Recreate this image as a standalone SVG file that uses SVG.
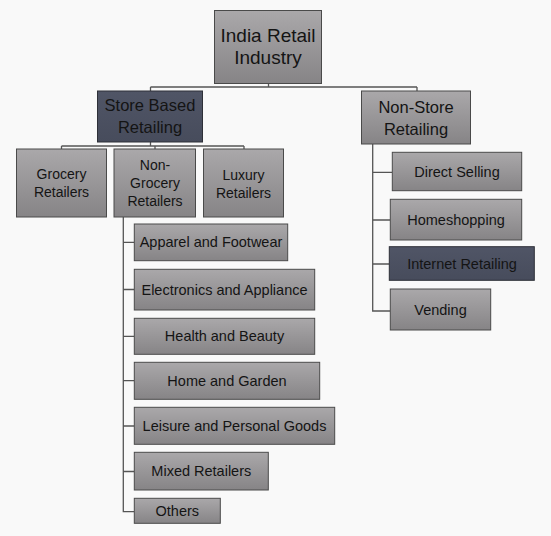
<svg xmlns="http://www.w3.org/2000/svg" width="551" height="536" viewBox="0 0 551 536">
<defs>
<linearGradient id="g" x1="0" y1="0" x2="0" y2="1">
<stop offset="0" stop-color="#aaa8aa"/>
<stop offset="1" stop-color="#868486"/>
</linearGradient>
<linearGradient id="d" x1="0" y1="0" x2="0" y2="1">
<stop offset="0" stop-color="#505566"/>
<stop offset="1" stop-color="#474c5c"/>
</linearGradient>
</defs>
<style>
.b{fill:url(#g);stroke:#4a4a4a;stroke-width:1}
.k{fill:url(#d);stroke:#2e3038;stroke-width:1}
text{font-family:"Liberation Sans",Arial,sans-serif;fill:#141414;text-anchor:middle;dominant-baseline:central}
.t1{font-size:19px}
.t2{font-size:16.5px}
.t3{font-size:14px}
.t4{font-size:14.5px}
#conn path{fill:none;stroke:#555;stroke-width:1.3}
</style>
<rect width="551" height="536" fill="#f9f9f9"/>
<g id="conn">
<path d="M268.5,83V87M150.5,87H417M150.5,87V91M417,87V91"/>
<path d="M150.5,142V146M61.5,146H244M61.5,146V149M155,146V149M244,146V149"/>
<path d="M123.3,217V511.7H134M123.3,242.3H134M123.3,289.5H134M123.3,336.3H134M123.3,380.7H134M123.3,426H134M123.3,471.5H134"/>
<path d="M372.7,144V311H390M372.7,172.3H392M372.7,220H390M372.7,264H389"/>
</g>
<g id="root"><rect class="b" x="214.5" y="10.5" width="107" height="73"/><text class="t1" x="268" y="35">India Retail</text><text class="t1" x="268" y="57.5">Industry</text></g>
<g id="store"><rect class="k" x="97.5" y="91" width="105" height="51"/><text class="t2" x="150" y="105">Store Based</text><text class="t2" x="150" y="126.5">Retailing</text></g>
<g id="nonstore"><rect class="b" x="361.5" y="91" width="109" height="53"/><text class="t2" x="416" y="107">Non-Store</text><text class="t2" x="416" y="128.5">Retailing</text></g>
<g id="grocery"><rect class="b" x="16.5" y="149" width="90" height="68"/><text class="t3" x="61.5" y="174">Grocery</text><text class="t3" x="61.5" y="192">Retailers</text></g>
<g id="nongrocery"><rect class="b" x="114" y="149" width="81.5" height="68"/><text class="t3" x="155" y="164.5">Non-</text><text class="t3" x="155" y="183">Grocery</text><text class="t3" x="155" y="200.5">Retailers</text></g>
<g id="luxury"><rect class="b" x="203.5" y="149" width="80" height="68"/><text class="t3" x="243.5" y="174.5">Luxury</text><text class="t3" x="243.5" y="192.5">Retailers</text></g>
<g id="apparel"><rect class="b" x="134.3" y="224" width="153.4" height="36.7"/><text class="t4" x="211" y="242.3">Apparel and Footwear</text></g>
<g id="electronics"><rect class="b" x="134.3" y="269.3" width="180.4" height="40.7"/><text class="t4" x="224.5" y="289.5">Electronics and Appliance</text></g>
<g id="health"><rect class="b" x="134.3" y="318.3" width="180.4" height="36"/><text class="t4" x="224.5" y="336.3">Health and Beauty</text></g>
<g id="home"><rect class="b" x="134.3" y="362.3" width="185.4" height="37"/><text class="t4" x="227" y="380.5">Home and Garden</text></g>
<g id="leisure"><rect class="b" x="134.3" y="407.3" width="200.4" height="37"/><text class="t4" x="234.5" y="425.5">Leisure and Personal Goods</text></g>
<g id="mixed"><rect class="b" x="134.3" y="452.3" width="134" height="37.7"/><text class="t4" x="201.3" y="471.3">Mixed Retailers</text></g>
<g id="others"><rect class="b" x="134.3" y="498.3" width="86" height="25"/><text class="t4" x="177.3" y="510.8">Others</text></g>
<g id="direct"><rect class="b" x="392.3" y="152.3" width="129.4" height="38.4"/><text class="t4" x="457" y="171.5">Direct Selling</text></g>
<g id="homeshopping"><rect class="b" x="390.3" y="199.3" width="131.4" height="40.7"/><text class="t4" x="456" y="219.6">Homeshopping</text></g>
<g id="internet"><rect class="k" x="389.3" y="246.7" width="145" height="33.6"/><text class="t4" x="462" y="263.5">Internet Retailing</text></g>
<g id="vending"><rect class="b" x="390.3" y="289" width="100.4" height="41"/><text class="t4" x="440.5" y="309.5">Vending</text></g>
</svg>
